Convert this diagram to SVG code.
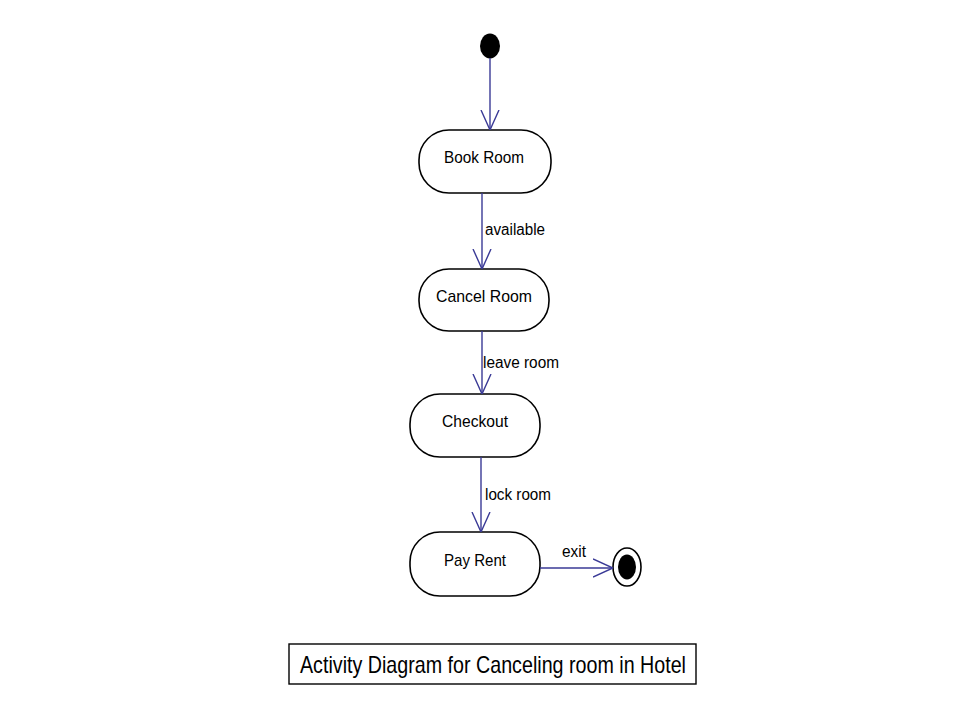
<svg xmlns="http://www.w3.org/2000/svg" width="960" height="720" viewBox="0 0 960 720">
<style>
.node rect{fill:#fff;stroke:#000;stroke-width:1.6}
.nt{font-family:"Liberation Sans",Arial,sans-serif;font-size:17px;fill:#000;text-anchor:middle}
.lbl{font-family:"Liberation Sans",Arial,sans-serif;font-size:16px;fill:#000}
.edge{stroke:#3a3a96;stroke-width:1.4;fill:none}
</style>
<defs>
<marker id="open" viewBox="0 0 20 20" refX="20" refY="10" markerWidth="20" markerHeight="20" markerUnits="userSpaceOnUse" orient="auto">
<path d="M0,1 L20,10 L0,19" fill="none" stroke="#3a3a96" stroke-width="1.4"/>
</marker>
</defs>
<rect width="960" height="720" fill="#fff"/>
<g id="start"><ellipse cx="490" cy="46" rx="10" ry="12.5" fill="#000"/></g>
<g id="book-room" class="node"><rect x="419" y="130" width="132" height="63" rx="30" ry="30"/><text class="nt" x="484" y="163" textLength="80" lengthAdjust="spacingAndGlyphs">Book Room</text></g>
<g id="cancel-room" class="node"><rect x="419" y="269" width="130" height="62" rx="30" ry="30"/><text class="nt" x="484" y="302" textLength="96" lengthAdjust="spacingAndGlyphs">Cancel Room</text></g>
<g id="checkout" class="node"><rect x="410" y="394" width="130" height="63" rx="30" ry="30"/><text class="nt" x="475" y="427" textLength="66" lengthAdjust="spacingAndGlyphs">Checkout</text></g>
<g id="pay-rent" class="node"><rect x="410" y="532" width="130" height="64" rx="30" ry="30"/><text class="nt" x="475" y="566" textLength="62" lengthAdjust="spacingAndGlyphs">Pay Rent</text></g>
<g id="end"><ellipse cx="627" cy="567" rx="14" ry="19" fill="#fff" stroke="#000" stroke-width="1.6"/><ellipse cx="627" cy="567" rx="9" ry="12.5" fill="#000"/></g>
<g id="connectors">
<line class="edge" x1="490" y1="58" x2="490" y2="130" marker-end="url(#open)"/>
<line class="edge" x1="482" y1="193" x2="482" y2="269" marker-end="url(#open)"/>
<line class="edge" x1="482" y1="331" x2="482" y2="394" marker-end="url(#open)"/>
<line class="edge" x1="481" y1="457" x2="481" y2="532" marker-end="url(#open)"/>
<line class="edge" x1="540" y1="568" x2="613" y2="568" marker-end="url(#open)"/>
<text class="lbl" x="485" y="235" textLength="60" lengthAdjust="spacingAndGlyphs">available</text>
<text class="lbl" x="483" y="368" textLength="76" lengthAdjust="spacingAndGlyphs">leave room</text>
<text class="lbl" x="485" y="500" textLength="66" lengthAdjust="spacingAndGlyphs">lock room</text>
<text class="lbl" x="562" y="557" textLength="24" lengthAdjust="spacingAndGlyphs">exit</text>
</g>
<g id="caption"><rect x="289" y="644" width="407" height="40" fill="#fff" stroke="#000" stroke-width="1.4"/><text x="300" y="673" font-family="Liberation Sans,Arial,sans-serif" font-size="24" textLength="386" lengthAdjust="spacingAndGlyphs">Activity Diagram for Canceling room in Hotel</text></g>
</svg>
